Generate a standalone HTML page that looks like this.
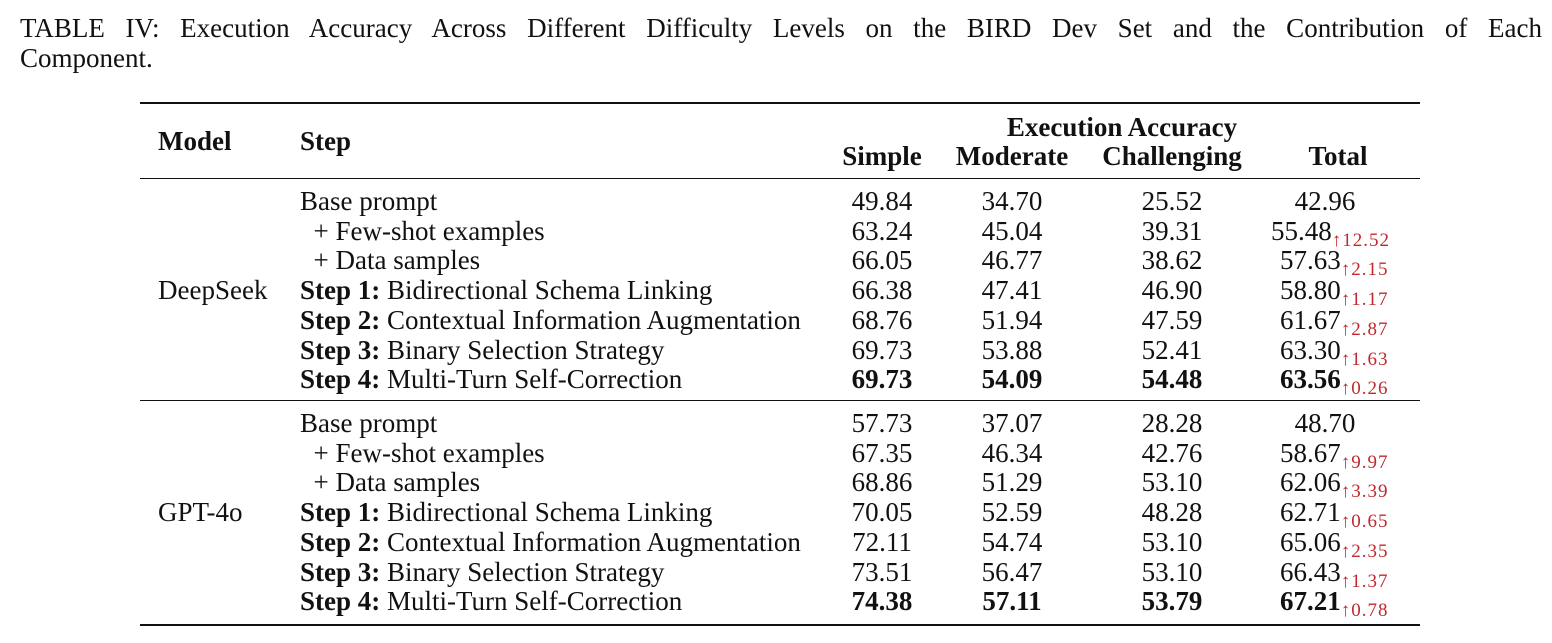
<!DOCTYPE html>
<html><head><meta charset="utf-8"><style>
body{margin:0;width:1552px;height:643px;background:#fff;position:relative;overflow:hidden;font-family:"Liberation Serif",serif;font-size:27px;color:#111}
.t{position:absolute;line-height:30px;white-space:nowrap}
.c{transform:translateX(-50%)}
b{font-weight:bold}
.r{color:#c0282d;font-size:19px;letter-spacing:1px;position:relative;top:6px}
.rule{position:absolute;left:140px;width:1280px;background:#111}
.title{position:absolute;left:20px;top:13px;width:1522px;text-align:justify;text-align-last:justify;line-height:30px;white-space:nowrap}
</style></head><body>
<div class="title">TABLE IV: Execution Accuracy Across Different Difficulty Levels on the BIRD Dev Set and the Contribution of Each</div>
<div class="t" style="left:20px;top:43px;">Component.</div>
<div class="rule" style="top:102px;height:2px"></div>
<div class="rule" style="top:178px;height:1px"></div>
<div class="rule" style="top:400px;height:1px"></div>
<div class="rule" style="top:624px;height:2px"></div>
<div class="t" style="left:158px;top:126px"><b>Model</b></div>
<div class="t" style="left:300px;top:126px"><b>Step</b></div>
<div class="t c" style="left:1122px;top:112px"><b>Execution Accuracy</b></div>
<div class="t c" style="left:882px;top:141px"><b>Simple</b></div>
<div class="t c" style="left:1012px;top:141px"><b>Moderate</b></div>
<div class="t c" style="left:1172px;top:141px"><b>Challenging</b></div>
<div class="t c" style="left:1338px;top:141px"><b>Total</b></div>
<div class="t" style="left:158px;top:275px">DeepSeek</div>
<div class="t" style="left:158px;top:497px">GPT-4o</div>
<div id="rows"></div>
<script>
var steps=["Base prompt","&nbsp;&nbsp;+ Few-shot examples","&nbsp;&nbsp;+ Data samples","<b>Step 1:</b> Bidirectional Schema Linking","<b>Step 2:</b> Contextual Information Augmentation","<b>Step 3:</b> Binary Selection Strategy","<b>Step 4:</b> Multi-Turn Self-Correction"];
var d1=[["49.84","34.70","25.52","42.96",""],["63.24","45.04","39.31","55.48","12.52"],["66.05","46.77","38.62","57.63","2.15"],["66.38","47.41","46.90","58.80","1.17"],["68.76","51.94","47.59","61.67","2.87"],["69.73","53.88","52.41","63.30","1.63"],["69.73","54.09","54.48","63.56","0.26"]];
var d2=[["57.73","37.07","28.28","48.70",""],["67.35","46.34","42.76","58.67","9.97"],["68.86","51.29","53.10","62.06","3.39"],["70.05","52.59","48.28","62.71","0.65"],["72.11","54.74","53.10","65.06","2.35"],["73.51","56.47","53.10","66.43","1.37"],["74.38","57.11","53.79","67.21","0.78"]];
var h="";
function blk(d,y0){for(var i=0;i<7;i++){var y=y0+i*29.7-15;var bo=i==6;
h+='<div class="t" style="left:300px;top:'+y+'px">'+steps[i]+'</div>';
var xs=[882,1012,1172];for(var j=0;j<3;j++){h+='<div class="t c" style="left:'+xs[j]+'px;top:'+y+'px">'+(bo?'<b>'+d[i][j]+'</b>':d[i][j])+'</div>';}
var tot=(bo?'<b>'+d[i][3]+'</b>':d[i][3]);
var sub=d[i][4];
if(sub){var x=sub.length>4?1271:1280;h+='<div class="t" style="left:'+x+'px;top:'+y+'px">'+tot+'<span class="r">↑'+sub+'</span></div>';}
else h+='<div class="t c" style="left:1325px;top:'+y+'px">'+tot+'</div>';}}
blk(d1,201);blk(d2,423);
document.getElementById("rows").innerHTML=h;
</script>
</body></html>
